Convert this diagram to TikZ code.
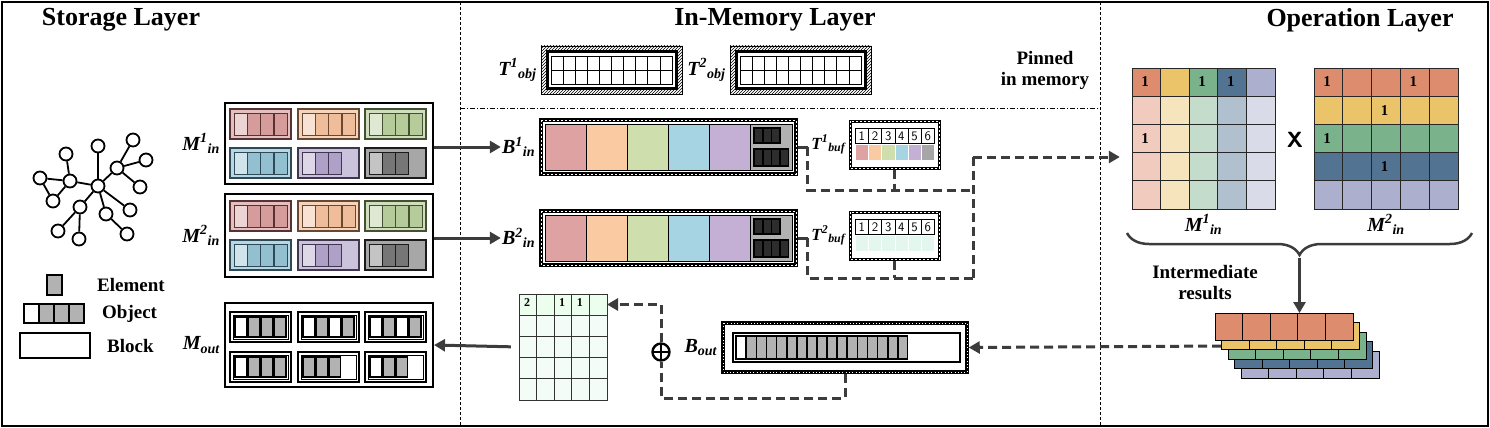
\documentclass[tikz,border=0pt]{standalone}
\usepackage{amsmath}
\usepackage{fontspec}
\setmainfont{Liberation Serif}
\usetikzlibrary{arrows.meta, calc, patterns, decorations.pathreplacing}
% storage colours
\definecolor{sR}{RGB}{196,112,112}
\definecolor{sO}{RGB}{232,160,110}
\definecolor{sG}{RGB}{150,180,110}
\definecolor{sC}{RGB}{100,165,190}
\definecolor{sP}{RGB}{140,120,175}
\definecolor{sK}{RGB}{60,60,60}
% buffer colours
\definecolor{bR}{RGB}{222,162,162}
\definecolor{bO}{RGB}{250,202,162}
\definecolor{bG}{RGB}{206,222,172}
\definecolor{bC}{RGB}{166,212,226}
\definecolor{bP}{RGB}{196,176,212}
\definecolor{mint}{RGB}{228,247,238}
% operation colours
\definecolor{oR}{RGB}{222,140,110}
\definecolor{oY}{RGB}{235,196,106}
\definecolor{oG}{RGB}{122,178,140}
\definecolor{oB}{RGB}{82,116,146}
\definecolor{oP}{RGB}{172,175,206}
\definecolor{lk}{RGB}{60,60,60}
\tikzset{
    arr/.style={-{Triangle[width=12pt,length=11pt]}},
    link/.style={line width=3pt, draw=lk},
    dsh/.style={link, dash pattern=on 9pt off 5pt},
    lyr/.style={line width=1pt, dash pattern=on 3pt off 2pt},
    ttl/.style={font=\fontsize{26}{30}\selectfont\bfseries},
    lbl/.style={font=\fontsize{20}{22}\selectfont\bfseries\itshape, inner sep=1pt},
    txt/.style={font=\fontsize{19}{21}\selectfont\bfseries, align=center, inner sep=0pt},
    num/.style={font=\fontsize{15}{16}\selectfont\bfseries},
    cnt/.style={draw, line width=2pt, inner sep=0pt, fill=white},
    gnode/.style={circle, draw, line width=1.8pt, minimum size=13pt, inner sep=0pt, fill=white}
}
\newcommand{\sublab}[3]{#1$^{\text{#2}}{}_{\text{#3}}$}
% object block of the storage layer: x, y, colour, elements
\newcommand{\objblk}[4]{%
    \draw[fill=#3!45, draw=#3!45!black, line width=1.5pt] (#1,#2) rectangle ++(61,30);
    \foreach \k in {1,...,#4}
        \draw[fill=#3!70, draw=#3!45!black, line width=.8pt] ({#1+4+(\k-1)*13.3},#2+4) rectangle ++(13,22);
    \draw[fill=#3!30, draw=#3!45!black, line width=.8pt] (#1+4,#2+4) rectangle ++(13,22);
}
% output block: x, y, fill/draw list
\newcommand{\outblk}[3]{%
    \draw[line width=2pt, fill=white] (#1,#2) rectangle ++(61,30);
    \draw[line width=1pt] (#1+3,#2+3) rectangle ++(55,24);
    \foreach \f/\d [count=\k] in {#3}
        \draw[fill=\f, draw=\d, line width=1.2pt] ({#1+5+(\k-1)*13},#2+5) rectangle ++(12,20);
}

\begin{document}
\begin{tikzpicture}[x=1pt,y=-1pt]
    \useasboundingbox (0,0) rectangle (1490,428);
    \draw[line width=2.5pt] (2,2) rectangle (1488,426);
    \draw[lyr] (460,2) -- (460,426);
    \draw[lyr] (1100,2) -- (1100,426);
    \draw[line width=.8pt, dash pattern=on 5pt off 2pt on 1pt off 2pt] (460,108) -- (1100,108);
    \node[ttl] at (121,20) {Storage Layer};
    \node[ttl] at (775,20) {In-Memory Layer};
    \node[ttl] at (1360,20) {Operation Layer};

    % Graph icon
    \foreach \n/\p in {a/{98,186}, b/{98,146}, c/{66,154}, d/{70,181}, e/{40,178}, f/{53,201},
        g/{117,168}, h/{133,140}, i/{146,160}, j/{140,187}, k/{80,207}, l/{58,231},
        m/{79,239}, n/{106,214}, o/{130,210}, p/{127,234}}
        \node[gnode] (g\n) at (\p) {};
    \foreach \u/\v in {a/b, a/g, g/h, g/i, g/j, a/d, d/c, d/e, d/f, e/f, a/k, k/l, k/m, a/n, n/p, a/o}
        \draw[line width=1.8pt] (g\u) -- (g\v);

    % Legend
    \draw[line width=1.5pt, fill=gray!60] (47,275) rectangle (62,295);
    \node[txt, anchor=west] at (97,285) {Element};
    \draw[line width=1.5pt, fill=white] (24,304) rectangle (84,323);
    \foreach \k in {1,2,3} \draw[line width=1.5pt, fill=gray!60] (24+\k*15,304) rectangle ++(15,19);
    \node[txt, anchor=west] at (102,314) {Object};
    \draw[line width=1.5pt, fill=white] (20,333) rectangle (90,358);
    \node[txt, anchor=west] at (107,346) {Block};

    % Storage matrices
    \node[cnt, minimum width=208pt, minimum height=81pt] (m1) at (329,143.5) {};
    \node[cnt, minimum width=208pt, minimum height=83pt] (m2) at (329,235.5) {};
    \node[cnt, minimum width=208pt, minimum height=84pt] (mout) at (329,345) {};
    \node[lbl, left=3pt] at (m1.west) {\sublab{M}{1}{in}};
    \node[lbl, left=3pt] at (m2.west) {\sublab{M}{2}{in}};
    \node[lbl, left=3pt] at (mout.west) {M$_{\text{out}}$};
    \foreach \y in {109,201} {
        \objblk{230}{\y}{sR}{4} \objblk{298}{\y}{sO}{4} \objblk{365}{\y}{sG}{4}
        \objblk{230}{\y+39}{sC}{4} \objblk{298}{\y+39}{sP}{3} \objblk{365}{\y+39}{sK}{3}
    }
    \outblk{230}{312}{white/black, gray!60/black, gray!60/black, gray!60/black}
    \outblk{298}{312}{white/black, gray!60/black, white/black, gray!60/black}
    \outblk{365}{312}{white/black, gray!60/black, white/black, gray!60/black}
    \outblk{230}{352}{white/black, gray!60/black, gray!60/black, gray!60/black}
    \outblk{298}{352}{gray!60/black, gray!60/black, gray!60/black, white/white}
    \outblk{365}{352}{white/black, gray!60/black, gray!60/black, white/white}

    % Pinned tables
    \foreach \n/\x in {1/541, 2/730} {
        \node[draw, line width=.8pt, minimum width=141pt, minimum height=48pt, inner sep=0pt,
            pattern=north east lines] (tobj\n) at (\x+70.5,70) {};
        \draw[line width=3pt, fill=white] (\x+6,52) rectangle ++(129,36);
        \foreach \i in {0,...,9} \foreach \j in {0,1}
            \draw[line width=.7pt] ({\x+10+\i*12.1},56+\j*14) rectangle ++(12.1,14);
        \node[lbl, left=3pt] at (tobj\n.west) {\sublab{T}{\n}{obj}};
    }
    \node[txt] at (1045,70) {Pinned\\in memory};

    % Input buffers
    \coordinate (j1) at (973,190);
    \coordinate (j2) at (973,278);
    \coordinate (jo) at (973,157);
    \foreach \n/\y in {1/0, 2/91} {
        \node[draw, line width=3.5pt, minimum width=255pt, minimum height=54pt, inner sep=0pt] (b\n) at (668.5,147+\y) {};
        \draw[white, line width=.7pt, dash pattern=on 2pt off 2pt] (541,120+\y) rectangle (796,174+\y);
        \foreach \c [count=\k] in {bR,bO,bG,bC,bP}
            \draw[fill=\c, line width=1pt] ({545+(\k-1)*41},124+\y) rectangle ++(41,46);
        \draw[fill=gray!60, line width=1pt] (750,124+\y) rectangle (792,170+\y);
        \fill (753,127+\y) rectangle (781,144+\y);
        \foreach \k in {0,1,2} \fill[gray!35!black] ({755+\k*8.7},129+\y) rectangle ++(7,13);
        \fill (753,148+\y) rectangle (789,167+\y);
        \foreach \k in {0,...,3} \fill[gray!35!black] ({755+\k*8.5},150+\y) rectangle ++(7,15);
        \node[lbl, left=3pt] (bl\n) at (b\n.west) {\sublab{B}{\n}{in}};
        % lookup tables
        \node[draw, line width=3pt, minimum width=89pt, minimum height=47pt, inner sep=0pt] (tb\n) at (894.5,144.5+\y) {};
        \draw[white, line width=.6pt, dash pattern=on 2pt off 2pt] (850,121+\y) rectangle (939,168+\y);
        \foreach \t [count=\k] in {1,...,6}
            \node[draw, line width=.6pt, fill=white, minimum width=13.2pt, minimum height=15pt, inner sep=0pt,
                font=\fontsize{13}{14}\sffamily] at ({848.6+\k*13.2},{136+\y}) {\t};
        \node[lbl, font=\fontsize{17}{19}\selectfont\bfseries\itshape, left=2pt] at (tb\n.west) {\sublab{T}{\n}{buf}};
        \draw[link] (b\n.east) -- ++(10,0) coordinate (s\n);
        \draw[dsh] (s\n) |- (j\n);
        \draw[dsh] (tb\n.south) -- (tb\n.south |- j\n);
        \draw[link, arr] (m\n.east |- bl\n) -- (bl\n.west);
    }
    \foreach \c [count=\k] in {bR,bO,bG,bC,bP,gray!70}
        \draw[fill=\c, draw=white, line width=.6pt] ({842+\k*13.2},144) rectangle ++(13.2,16);
    \foreach \k in {1,...,6}
        \draw[fill=mint, draw=white, line width=.6pt] ({842+\k*13.2},235) rectangle ++(13.2,16);
    \draw[dsh] (j2) -- (jo);

    % Operation layer
    \node[minimum width=143pt, minimum height=141pt, inner sep=0pt] (om1) at (1203.5,138.5) {};
    \node[minimum width=144pt, minimum height=141pt, inner sep=0pt] (om2) at (1386,138.5) {};
    \foreach \c [count=\i from 0] in {oR,oY,oG,oB,oP} {
        \foreach \j in {1,...,4}
            \draw[fill=\c!45, draw=gray!30!black, line width=1pt] ({1132+\i*28.6},{68+\j*28.2}) rectangle ++(28.6,28.2);
        \draw[fill=\c, draw=gray!30!black, line width=1pt] ({1132+\i*28.6},68) rectangle ++(28.6,28.2);
        \foreach \j in {0,...,4}
            \draw[fill=\c, draw=gray!30!black, line width=1pt] ({1314+\j*28.8},{68+\i*28.2}) rectangle ++(28.8,28.2);
    }
    \foreach \r/\q in {0/0, 0/2, 0/3, 2/0}
        \node[num] at ({1145+\q*28.6},{82+\r*28.2}) {1};
    \foreach \r/\q in {0/0, 0/3, 1/2, 2/0, 3/2}
        \node[num] at ({1327+\q*28.8},{82+\r*28.2}) {1};
    \node[font=\fontsize{22}{24}\sffamily\bfseries] at (1295,140) {X};
    \draw[dsh, arr, shorten >=12pt] (jo) -- (jo -| om1.west);
    \node[lbl, below=4pt] at (om1.south) {\sublab{M}{1}{in}};
    \node[lbl, below=4pt] at (om2.south) {\sublab{M}{2}{in}};
    \draw[decorate, decoration={brace, mirror, amplitude=22pt}, line width=2.5pt, lk] (1127,233) -- (1472,233);
    \coordinate (bt) at (1299.5,258);
    \node[txt] at (1205,283) {Intermediate\\results};
    % stacked intermediate results
    \foreach \k/\c in {4/oP, 3/oB, 2/oG, 1/oY, 0/oR}
        \foreach \i in {0,...,4}
            \draw[fill=\c, line width=1pt] ({1215+\k*6.5+\i*27.6},{313+\k*9.5}) rectangle ++(27.6,27);
    \coordinate (st) at (1299.5,313);
    \coordinate (ir) at (1221,346);
    \draw[link, arr] (bt) -- (st);

    % Output buffer
    \node[draw, line width=3.5pt, minimum width=244pt, minimum height=49pt, inner sep=0pt] (bout) at (845,347.5) {};
    \draw[white, line width=.9pt, dash pattern=on .8pt off 2.5pt] (723,323) rectangle (967,372);
    \draw[line width=1.2pt, fill=white] (733,333) rectangle (960,362);
    \fill (735,335) rectangle (908,360);
    \foreach \k in {0,...,16}
        \fill[gray!60] ({737+\k*10.1},337) rectangle ++(8.4,21);
    \fill[white] (737,337) rectangle ++(8.4,21);
    \node[lbl, left=3pt] at (bout.west) {B$_{\text{out}}$};
    \draw[dsh, arr] (ir) -- (bout.east);

    % Result matrix
    \node[minimum width=88pt, minimum height=106pt, inner sep=0pt] (rg) at (563,347) {};
    \foreach \i in {0,...,4} {
        \draw[fill=mint!70!green!20, draw=gray!40!black, line width=1pt] ({519+\i*17.6},294) rectangle ++(17.6,21.2);
        \foreach \j in {1,...,4}
            \draw[fill=mint!40, draw=gray!40!black, line width=1pt] ({519+\i*17.6},{294+\j*21.2}) rectangle ++(17.6,21.2);
    }
    \foreach \t/\q in {2/0, 1/2, 1/3}
        \node[font=\fontsize{12}{13}\selectfont\bfseries] at ({527+\q*17.6},303) {\t};
    \node[circle, draw, line width=2.4pt, minimum size=17pt, inner sep=0pt, fill=white,
        path picture={\draw[line width=2.2pt] (path picture bounding box.north) -- (path picture bounding box.south)
            (path picture bounding box.west) -- (path picture bounding box.east);}] (opl) at (661,352) {};
    \coordinate (c1) at (661,398);
    \coordinate (rgt) at (607,304.5);
    \draw[dsh] (bout.south) |- (c1) -- (opl.south);
    \draw[dsh, arr] (opl.north) |- (rgt);
    \draw[link, arr, shorten <=8pt] (rg.west) -- (mout.east);
\end{tikzpicture}
\end{document}
